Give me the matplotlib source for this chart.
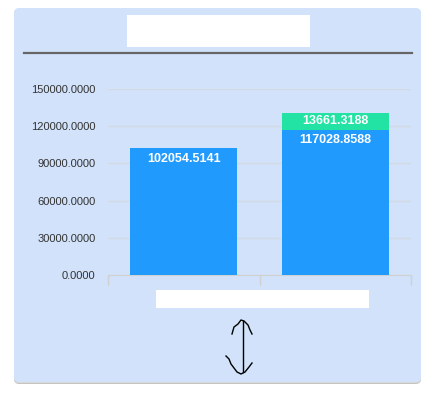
import matplotlib
matplotlib.use('Agg')
import matplotlib.pyplot as plt
from matplotlib.patches import FancyBboxPatch, Rectangle
from matplotlib.lines import Line2D

categories = ['A', 'B']
base_values = [102054.5141, 117028.8588]
top_values = [0.0, 13661.3188]
y_ticks = [0, 30000, 60000, 90000, 120000, 150000]

W, H = 440, 409
plt.rcParams['font.family'] = ['Liberation Sans', 'DejaVu Sans']

fig = plt.figure(figsize=(W / 100, H / 100), dpi=100)
fig.patch.set_facecolor('white')


def px(x, y):
    # pixel coords (top-left origin) -> figure fraction
    return x / W, 1 - y / H


def box(x0, y0, x1, y1, **kw):
    fx, fy = px(x0, y1)
    return Rectangle((fx, fy), (x1 - x0) / W, (y1 - y0) / H, transform=fig.transFigure, **kw)


# card shadow + card
for off, c in [(2, '#c4c4c4'), (1, '#d9d9d9')]:
    fx, fy = px(14, 382 + off)
    fig.patches.append(FancyBboxPatch((fx, fy), 407 / W, 374 / H,
                                      boxstyle='round,pad=0,rounding_size=0.012',
                                      transform=fig.transFigure, fc=c, ec='none', zorder=0))
fx, fy = px(14, 382)
fig.patches.append(FancyBboxPatch((fx, fy), 407 / W, 374 / H,
                                  boxstyle='round,pad=0,rounding_size=0.012',
                                  transform=fig.transFigure, fc='#d1e2fa', ec='none', zorder=1))

# title placeholder and rule
fig.patches.append(box(127, 15, 310, 47, fc='white', ec='none', zorder=2))
fig.lines.append(Line2D([24 / W, 412 / W], [1 - 52.5 / H] * 2, transform=fig.transFigure,
                        color='#666666', lw=1.6, zorder=2))
# x label placeholder
fig.patches.append(box(156, 290, 369, 308, fc='white', ec='none', zorder=2))

# hand-drawn double arrow
arrow_paths = [
    [(243, 321), (243, 372)],
    [(232, 334), (234, 327), (238, 324), (241, 320), (244, 321), (248, 325), (250, 330), (252, 334)],
    [(226, 356), (229, 359), (231, 364), (234, 368), (237, 372), (241, 374), (245, 372), (249, 367), (252, 363)],
]
for path in arrow_paths:
    xs = [p[0] / W for p in path]
    ys = [1 - p[1] / H for p in path]
    fig.lines.append(Line2D(xs, ys, transform=fig.transFigure, color='black', lw=1.0, zorder=3))

# plot area
left, right, top, bottom = 108, 411, 89, 275
ax = fig.add_axes([left / W, 1 - bottom / H, (right - left) / W, (bottom - top) / H])
ax.set_facecolor('none')
ax.set_zorder(2)

x = list(range(len(categories)))
bw = 0.705
b1 = ax.bar(x, base_values, width=bw, color='#219afe', zorder=3)
b2 = ax.bar(x, top_values, bottom=base_values, width=bw, color='#22e3a3', zorder=3)

for i in x:
    ax.text(i, base_values[i] - 3300, f'{base_values[i]:.4f}', ha='center', va='top',
            color='white', fontsize=9.0, fontweight='bold', zorder=4)
    if top_values[i] > 0:
        ax.text(i, base_values[i] + top_values[i] / 2, f'{top_values[i]:.4f}', ha='center',
                va='center', color='white', fontsize=9.0, fontweight='bold', zorder=4)

ax.set_xlim(-0.5, len(categories) - 0.5)
ax.set_ylim(0, 150000)
ax.set_yticks(y_ticks)
ax.set_yticklabels([f'{v:.4f}' for v in y_ticks], fontsize=8.0, color='#333333')
ax.yaxis.grid(True, color='#d4dae4', lw=1.0, zorder=0)
ax.tick_params(axis='y', length=0, pad=9)
ax.set_xticks([i - 0.5 for i in range(len(categories) + 1)])
ax.set_xticklabels([''] * (len(categories) + 1))
ax.tick_params(axis='x', length=7, color='#d0d0d0', width=1)
for s in ['top', 'right', 'left']:
    ax.spines[s].set_visible(False)
ax.spines['bottom'].set_color('#d0d0d0')

fig.savefig('out.png', dpi=100)
